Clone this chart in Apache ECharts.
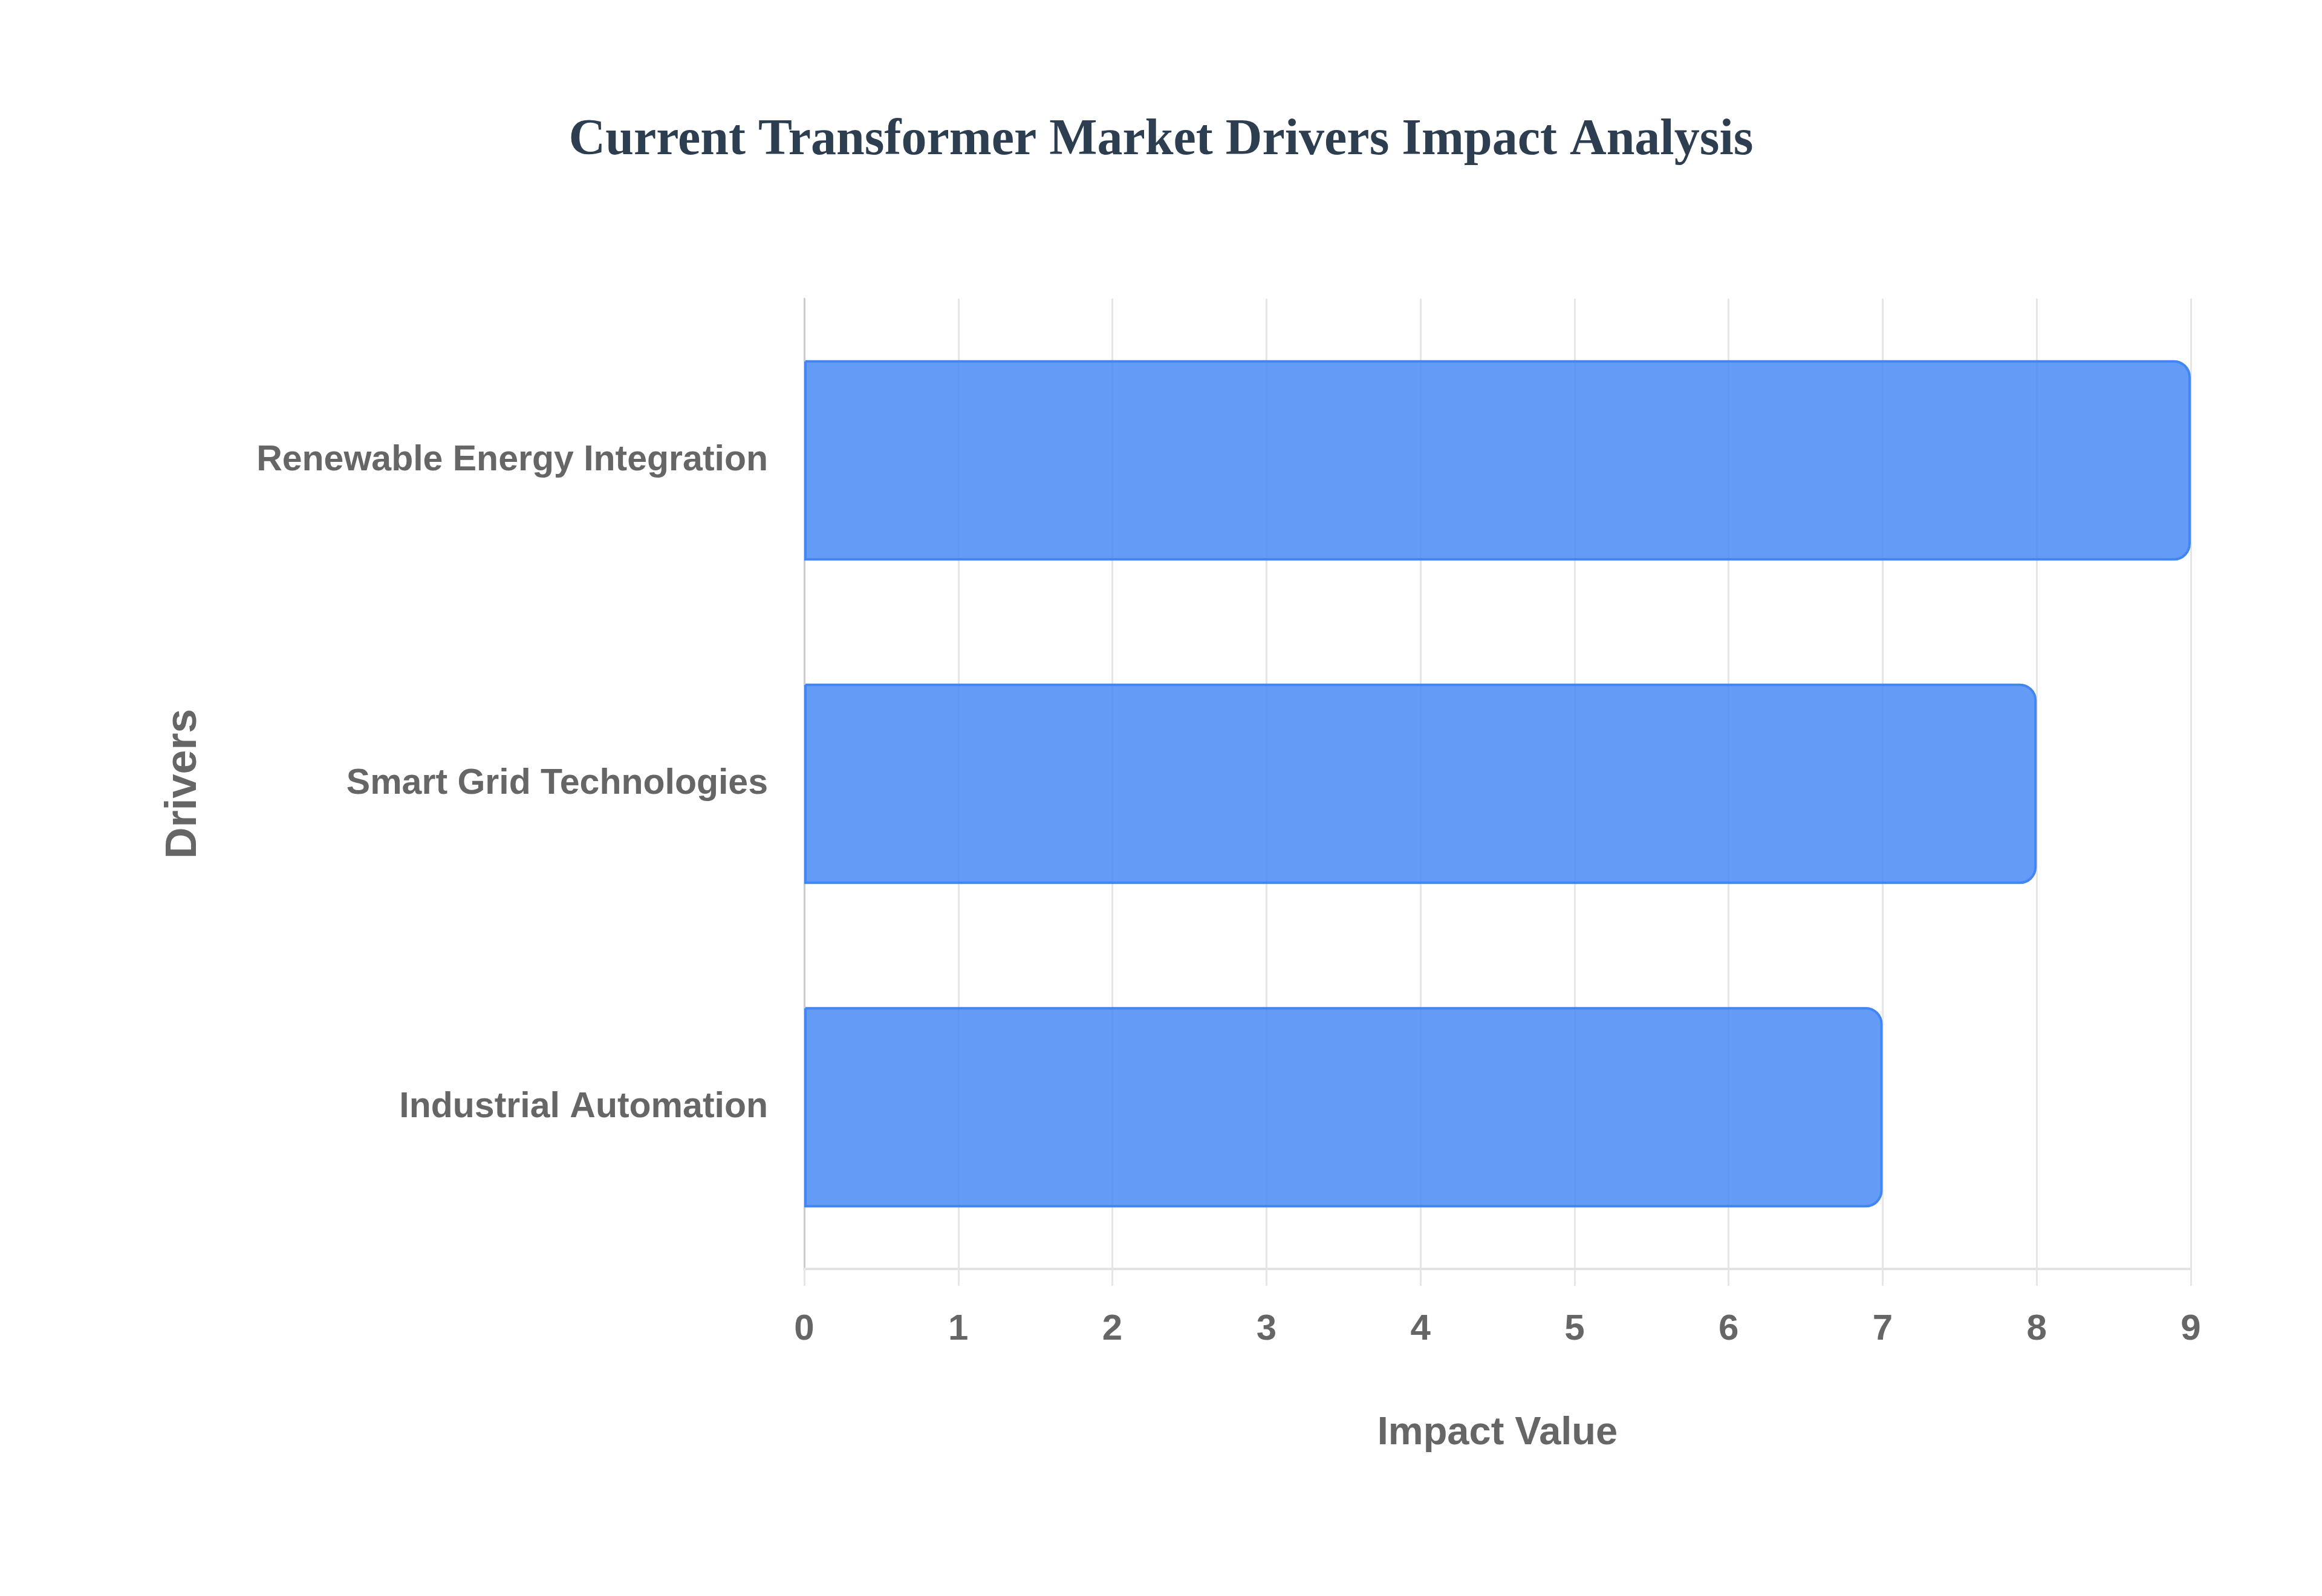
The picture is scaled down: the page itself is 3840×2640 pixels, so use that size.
<!DOCTYPE html>
<html>
<head>
<meta charset="utf-8">
<style>
html,body{margin:0;padding:0;background:#fff;}
#chart{width:3840px;height:2640px;}
</style>
<script src="https://cdn.jsdelivr.net/npm/echarts@6/dist/echarts.min.js"></script>
</head>
<body>
<div id="chart"></div>
<script>
const titleText = 'Current Transformer Market Drivers Impact Analysis';
const categories = ['Renewable Energy Integration', 'Smart Grid Technologies', 'Industrial Automation'];
const impactValues = [9, 8, 7];
const xAxisName = 'Impact Value';
const yAxisName = 'Drivers';

const chart = echarts.init(document.getElementById('chart'));
const sans = '"Liberation Sans", Arial, Helvetica, sans-serif';
chart.setOption({
  backgroundColor: '#ffffff',
  animation: false,
  title: {
    text: titleText,
    left: 'center',
    top: 186,
    textStyle: {
      fontFamily: '"Liberation Serif", "Times New Roman", serif',
      fontWeight: 'bold',
      fontSize: 84,
      color: '#2c3e50'
    }
  },
  grid: { left: 1330, right: 217, top: 494, bottom: 541, containLabel: false },
  xAxis: {
    type: 'value',
    min: 0, max: 9, interval: 1,
    name: xAxisName,
    nameLocation: 'middle',
    nameGap: 240,
    nameTextStyle: { fontFamily: sans, fontWeight: 'bold', fontSize: 65, color: '#666666' },
    axisLine: { show: true, lineStyle: { color: '#e2e2e2', width: 4 } },
    axisTick: { show: true, length: 28, lineStyle: { color: '#e6e6e6', width: 3 } },
    axisLabel: { margin: 70, fontFamily: sans, fontWeight: 'bold', fontSize: 60, color: '#666666' },
    splitLine: { show: true, lineStyle: { color: '#e6e6e6', width: 3 } }
  },
  yAxis: {
    type: 'category',
    data: categories,
    inverse: true,
    name: yAxisName,
    nameLocation: 'middle',
    nameGap: 990,
    nameRotate: 90,
    nameTextStyle: { fontFamily: sans, fontWeight: 'bold', fontSize: 72, color: '#666666' },
    axisLine: { show: true, lineStyle: { color: '#cccccc', width: 3 } },
    axisTick: { show: false },
    axisLabel: { margin: 60, fontFamily: sans, fontWeight: 'bold', fontSize: 59, color: '#666666' },
    splitLine: { show: false }
  },
  series: [{
    type: 'bar',
    data: impactValues,
    barCategoryGap: '38%',
    itemStyle: {
      color: 'rgba(66,133,244,0.82)',
      borderColor: '#4285f4',
      borderWidth: 4,
      borderRadius: [0, 26, 26, 0]
    }
  }]
});
</script>
</body>
</html>
